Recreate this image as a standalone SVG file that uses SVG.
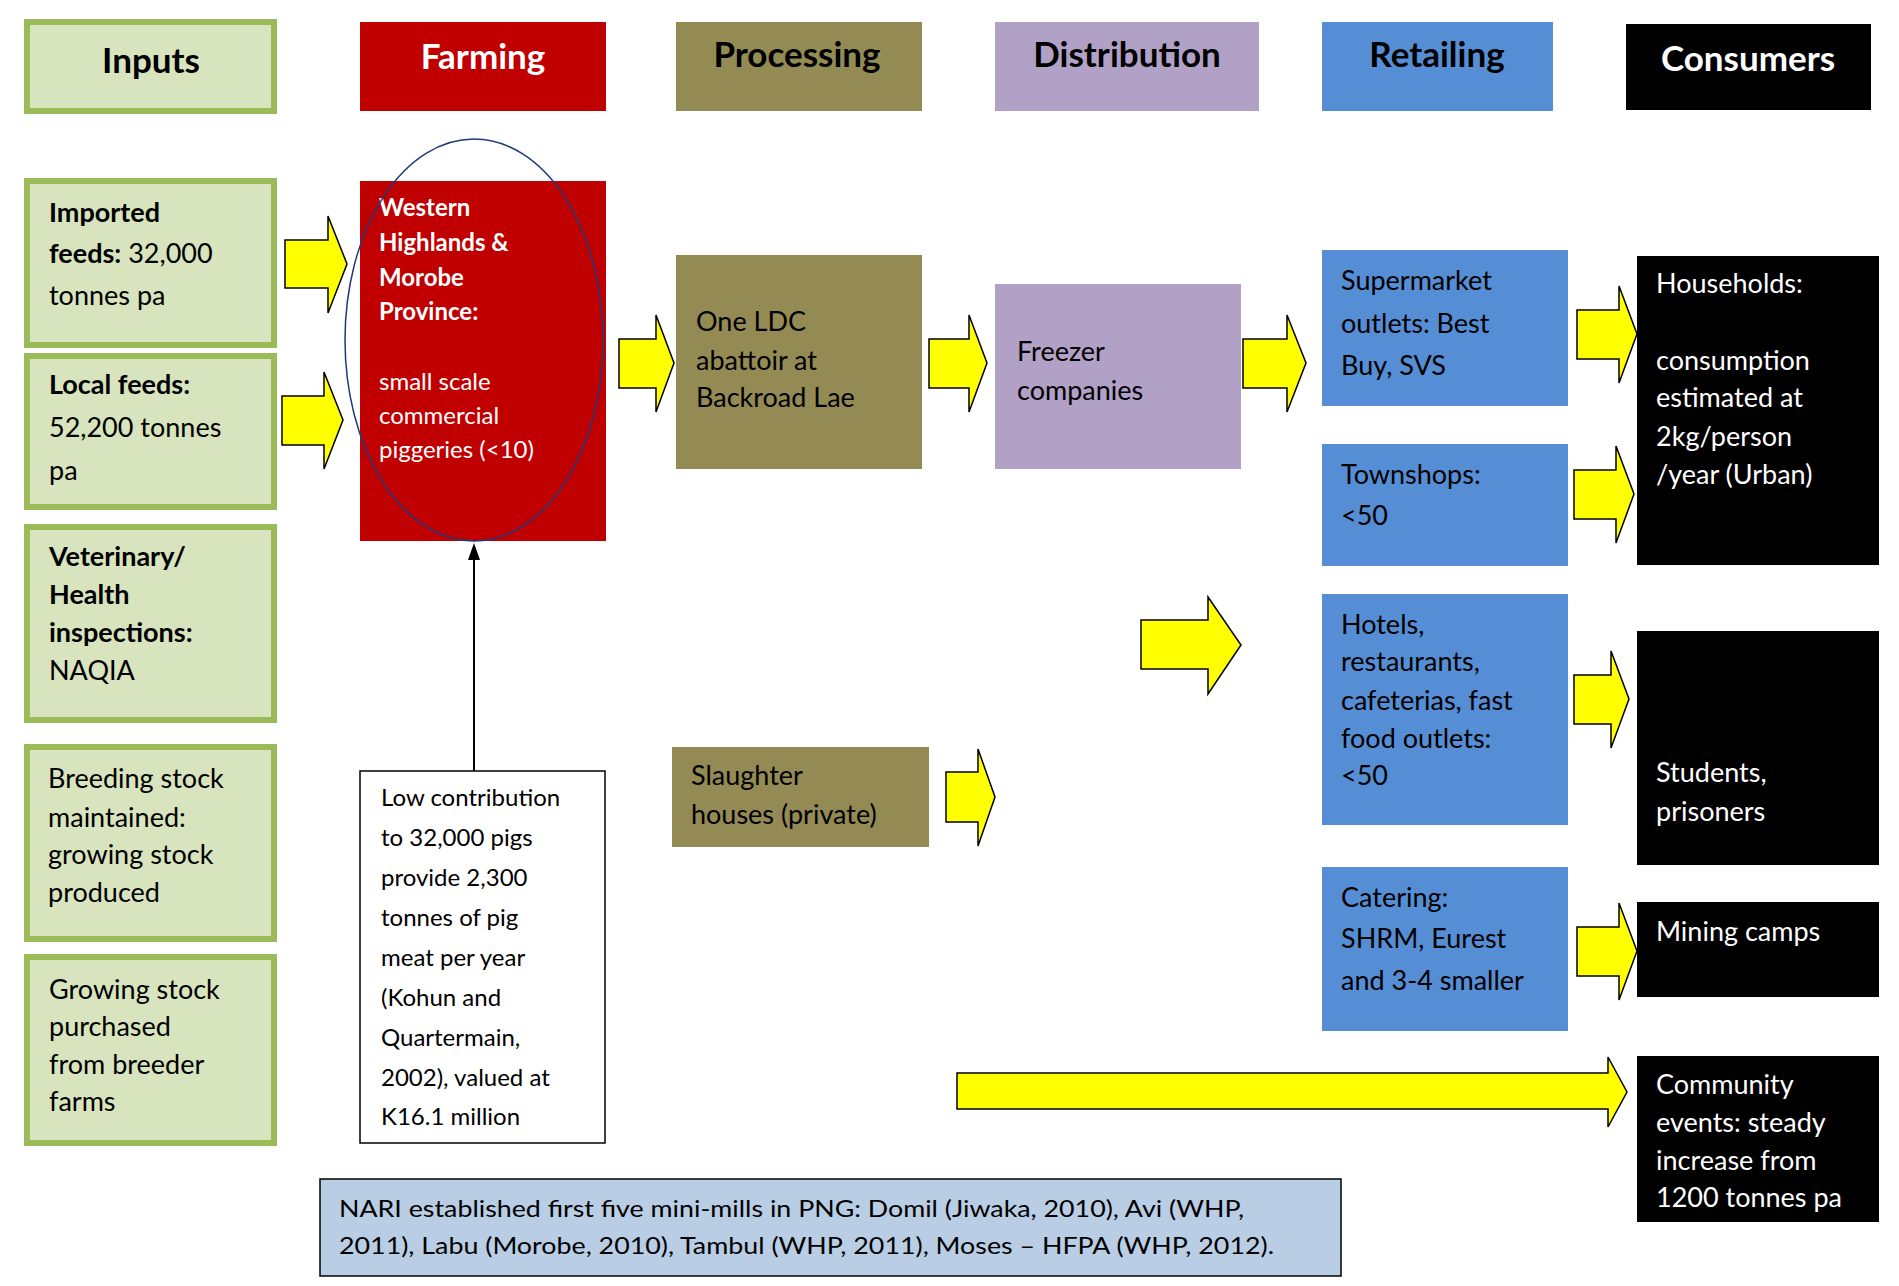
<svg xmlns="http://www.w3.org/2000/svg" width="1899" height="1286" viewBox="0 0 1899 1286">
<style>
.t{font-family:Lato,"Open Sans",sans-serif;font-size:27px}
.s{font-size:24px}
.h{font-family:Lato,"Open Sans",sans-serif;font-size:35px;font-weight:bold;text-anchor:middle}
.b{font-weight:bold}
.w{fill:#fff}
.k{fill:#000}
.g{fill:#d7e4bd;stroke:#9bbb59;stroke-width:6}
.ar{fill:#ffff00;stroke:#000;stroke-width:1.5}
</style>
<rect width="1899" height="1286" fill="#fff"/>
<g id="headers">
<g id="h-inputs"><rect class="g" x="27" y="22" width="247" height="89"/><text class="h k" x="151" y="73">Inputs</text></g>
<g id="h-farming"><rect x="360" y="22" width="246" height="89" fill="#c00000"/><text class="h w" x="483" y="69">Farming</text></g>
<g id="h-processing"><rect x="676" y="22" width="246" height="89" fill="#948a54"/><text class="h k" x="797" y="67">Processing</text></g>
<g id="h-distribution"><rect x="995" y="22" width="264" height="89" fill="#b2a1c7"/><text class="h k" x="1127" y="67">Distribution</text></g>
<g id="h-retailing"><rect x="1322" y="22" width="231" height="89" fill="#558ed5"/><text class="h k" x="1437" y="67">Retailing</text></g>
<g id="h-consumers"><rect x="1626" y="24" width="245" height="86" fill="#000"/><text class="h w" x="1748" y="71">Consumers</text></g>
</g>
<g id="n-imported"><rect class="g" x="27" y="181" width="247" height="164"/><text class="t k" x="49"><tspan class="b" x="49" y="222">Imported</tspan><tspan x="49" y="263"><tspan class="b">feeds:</tspan> 32,000</tspan><tspan x="49" y="305">tonnes pa</tspan></text></g>
<g id="n-local"><rect class="g" x="27" y="356" width="247" height="151"/><text class="t k"><tspan class="b" x="49" y="394">Local feeds:</tspan><tspan x="49" y="437">52,200 tonnes</tspan><tspan x="49" y="480">pa</tspan></text></g>
<g id="n-vet"><rect class="g" x="27" y="527" width="247" height="193"/><text class="t k"><tspan class="b" x="49" y="566">Veterinary/</tspan><tspan class="b" x="49" y="604">Health</tspan><tspan class="b" x="49" y="642">inspections:</tspan><tspan x="49" y="680">NAQIA</tspan></text></g>
<g id="n-breeding"><rect class="g" x="27" y="747" width="247" height="192"/><text class="t k"><tspan x="48" y="788">Breeding stock</tspan><tspan x="48" y="827">maintained:</tspan><tspan x="48" y="864">growing stock</tspan><tspan x="48" y="902">produced</tspan></text></g>
<g id="n-growing"><rect class="g" x="27" y="957" width="247" height="186"/><text class="t k"><tspan x="49" y="999">Growing stock</tspan><tspan x="49" y="1036">purchased</tspan><tspan x="49" y="1074">from breeder</tspan><tspan x="49" y="1111">farms</tspan></text></g>
<g id="n-farming"><rect x="360" y="181" width="246" height="360" fill="#c00000"/><text class="t s w"><tspan class="b" x="379" y="216">Western</tspan><tspan class="b" x="379" y="251">Highlands &amp;</tspan><tspan class="b" x="379" y="286">Morobe</tspan><tspan class="b" x="379" y="320">Province:</tspan><tspan x="379" y="390">small scale</tspan><tspan x="379" y="424">commercial</tspan><tspan x="379" y="458">piggeries (&lt;10)</tspan></text>
<ellipse cx="474" cy="340" rx="129" ry="201" fill="none" stroke="#1f3a7a" stroke-width="1.5"/></g>
<g id="n-low"><rect x="360" y="771" width="245" height="372" fill="#fff" stroke="#000" stroke-width="1.5"/><text class="t s k"><tspan x="381" y="806">Low contribution</tspan><tspan x="381" y="846">to 32,000 pigs</tspan><tspan x="381" y="886">provide 2,300</tspan><tspan x="381" y="926">tonnes of pig</tspan><tspan x="381" y="966">meat per year</tspan><tspan x="381" y="1006">(Kohun and</tspan><tspan x="381" y="1046">Quartermain,</tspan><tspan x="381" y="1086">2002), valued at</tspan><tspan x="381" y="1125">K16.1 million</tspan></text></g>
<g id="n-ldc"><rect x="676" y="255" width="246" height="214" fill="#948a54"/><text class="t k"><tspan x="696" y="331">One LDC</tspan><tspan x="696" y="370">abattoir at</tspan><tspan x="696" y="407">Backroad Lae</tspan></text></g>
<g id="n-slaughter"><rect x="672" y="747" width="257" height="100" fill="#948a54"/><text class="t k"><tspan x="691" y="785">Slaughter</tspan><tspan x="691" y="824">houses (private)</tspan></text></g>
<g id="n-freezer"><rect x="995" y="284" width="246" height="185" fill="#b2a1c7"/><text class="t k"><tspan x="1017" y="361">Freezer</tspan><tspan x="1017" y="400">companies</tspan></text></g>
<g id="n-supermarket"><rect x="1322" y="250" width="246" height="156" fill="#558ed5"/><text class="t k"><tspan x="1341" y="290">Supermarket</tspan><tspan x="1341" y="333">outlets: Best</tspan><tspan x="1341" y="375">Buy, SVS</tspan></text></g>
<g id="n-townshops"><rect x="1322" y="444" width="246" height="122" fill="#558ed5"/><text class="t k"><tspan x="1341" y="484">Townshops:</tspan><tspan x="1341" y="525">&lt;50</tspan></text></g>
<g id="n-hotels"><rect x="1322" y="594" width="246" height="231" fill="#558ed5"/><text class="t k"><tspan x="1341" y="634">Hotels,</tspan><tspan x="1341" y="671">restaurants,</tspan><tspan x="1341" y="710">cafeterias, fast</tspan><tspan x="1341" y="748">food outlets:</tspan><tspan x="1341" y="785">&lt;50</tspan></text></g>
<g id="n-catering"><rect x="1322" y="867" width="246" height="164" fill="#558ed5"/><text class="t k"><tspan x="1341" y="907">Catering:</tspan><tspan x="1341" y="948">SHRM, Eurest</tspan><tspan x="1341" y="990">and 3-4 smaller</tspan></text></g>
<g id="n-households"><rect x="1637" y="256" width="242" height="309" fill="#000"/><text class="t w"><tspan x="1656" y="293">Households:</tspan><tspan x="1656" y="370">consumption</tspan><tspan x="1656" y="407">estimated at</tspan><tspan x="1656" y="446">2kg/person</tspan><tspan x="1656" y="484">/year (Urban)</tspan></text></g>
<g id="n-students"><rect x="1637" y="631" width="242" height="234" fill="#000"/><text class="t w"><tspan x="1656" y="782">Students,</tspan><tspan x="1656" y="821">prisoners</tspan></text></g>
<g id="n-mining"><rect x="1637" y="902" width="242" height="95" fill="#000"/><text class="t w" x="1656" y="941">Mining camps</text></g>
<g id="n-community"><rect x="1637" y="1056" width="242" height="166" fill="#000"/><text class="t w"><tspan x="1656" y="1094">Community</tspan><tspan x="1656" y="1132">events: steady</tspan><tspan x="1656" y="1170">increase from</tspan><tspan x="1656" y="1207">1200 tonnes pa</tspan></text></g>
<g id="n-nari"><rect x="320" y="1179" width="1021" height="97" fill="#b9cde5" stroke="#000" stroke-width="1.5"/><text class="t k" style="font-size:24px"><tspan x="339" y="1217" textLength="905" lengthAdjust="spacingAndGlyphs">NARI established first five mini-mills  in PNG: Domil (Jiwaka, 2010), Avi (WHP,</tspan><tspan x="339" y="1254" textLength="935" lengthAdjust="spacingAndGlyphs">2011), Labu (Morobe, 2010), Tambul (WHP, 2011), Moses – HFPA (WHP, 2012).</tspan></text></g>
<g id="connectors">
<line x1="474" y1="771" x2="474" y2="556" stroke="#000" stroke-width="2"/>
<path d="M474,543 L468,560 L480,560 Z" fill="#000"/>
<path class="ar" d="M285,240 H328 V216 L347,264 L328,313 V288 H285 Z"/>
<path class="ar" d="M282,396 H324 V372 L343,420 L324,469 V445 H282 Z"/>
<path class="ar" d="M619,339 H656 V315 L674,363 L656,412 V388 H619 Z"/>
<path class="ar" d="M929,339 H969 V315 L987,363 L969,412 V388 H929 Z"/>
<path class="ar" d="M1243,339 H1287 V315 L1306,363 L1287,412 V388 H1243 Z"/>
<path class="ar" d="M1577,310 H1619 V286 L1637,334 L1619,383 V359 H1577 Z"/>
<path class="ar" d="M1574,470 H1616 V446 L1634,494 L1616,543 V519 H1574 Z"/>
<path class="ar" d="M1141,620 H1208 V597 L1241,645 L1208,694 V669 H1141 Z"/>
<path class="ar" d="M946,772 H978 V749 L995,797 L978,846 V822 H946 Z"/>
<path class="ar" d="M1574,675 H1611 V651 L1629,699 L1611,748 V724 H1574 Z"/>
<path class="ar" d="M1577,927 H1619 V903 L1637,951 L1619,1000 V976 H1577 Z"/>
<path class="ar" d="M957,1073 H1608 V1057 L1627,1092 L1608,1127 V1109 H957 Z"/>
</g>
</svg>
